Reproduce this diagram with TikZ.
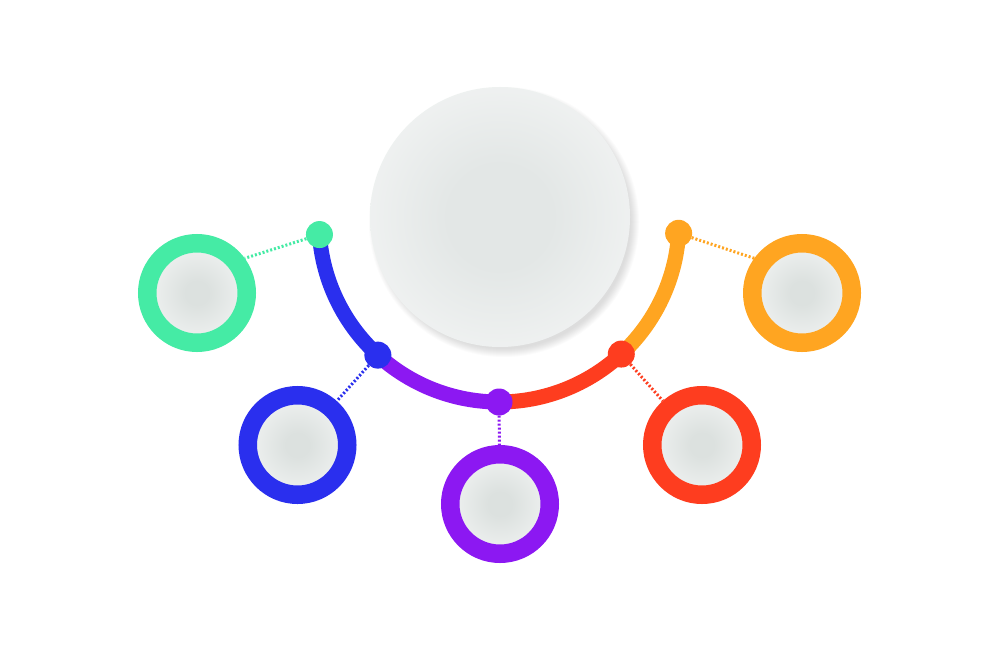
\documentclass[tikz,border=0pt]{standalone}
\usetikzlibrary{calc}
\definecolor{cgreen}{HTML}{45EBA5}
\definecolor{cblue}{HTML}{2A2FEE}
\definecolor{cpurple}{HTML}{8C18F2}
\definecolor{cred}{HTML}{FE3D1F}
\definecolor{corange}{HTML}{FFA521}
\definecolor{padc}{HTML}{DCE1DF}
\definecolor{pade}{HTML}{F9FAFA}
\definecolor{hubc}{HTML}{E3E7E6}
\definecolor{hube}{HTML}{F6F7F7}
\pgfdeclareradialshading{padfill}{\pgfpoint{0bp}{0bp}}{color(0bp)=(padc); color(6bp)=(padc); color(35bp)=(pade); color(50bp)=(pade)}
\pgfdeclareradialshading{hubfill}{\pgfpoint{0bp}{0bp}}{color(0bp)=(hubc); color(10bp)=(hubc); color(35bp)=(hube); color(50bp)=(hube)}

\begin{document}
\begin{tikzpicture}[x=1pt,y=1pt,
  seg/.style={line width=15pt},
  dot/.style={circle, minimum size=27pt, inner sep=0pt},
  ring/.style={circle, draw, line width=18.5pt, minimum size=99.5pt, inner sep=0pt, shading=padfill},
  link/.style={line width=3pt, dash pattern=on 2pt off 2pt}]
  \useasboundingbox[fill=white] (0,0) rectangle (1000,649);
  %coordinates
  \coordinate (hubpos) at (500,432);
  \coordinate (ctr) at (499,427);
  \coordinate (pg) at ($(ctr)+(184:180)$);
  \coordinate (pb) at ($(ctr)+(227.7:180)$);
  \coordinate (pp) at ($(ctr)+(270:180)$);
  \coordinate (pr) at ($(ctr)+(312.8:180)$);
  \coordinate (po) at ($(ctr)+(356.4:180)$);
  % shadow of the hub
  \foreach \k in {0,...,8}
    \fill[black!60, opacity=0.022] ($(hubpos)+(4,-5)$) circle ({127+\k});
  % Nodes
  \node[circle, minimum size=260pt, inner sep=0pt, shading=hubfill] (hub) at (hubpos) {};
  % arc
  \draw[seg, cblue] (pg) arc[start angle=184, end angle=227.7, radius=180pt];
  \draw[seg, cpurple] (pb) arc[start angle=227.7, end angle=270, radius=180pt];
  \draw[seg, cred] (pp) arc[start angle=270, end angle=312.8, radius=180pt];
  \draw[seg, corange] (pr) arc[start angle=312.8, end angle=356.4, radius=180pt];
  \node[dot, fill=cgreen] (gdot) at (pg) {};
  \node[dot, fill=cblue] (bdot) at (pb) {};
  \node[dot, fill=cpurple] (pdot) at (pp) {};
  \node[dot, fill=cred] (rdot) at (pr) {};
  \node[dot, fill=corange] (odot) at (po) {};
  \node[ring, draw=cgreen] (gring) at (197,356) {};
  \node[ring, draw=cblue] (bring) at (297.5,204) {};
  \node[ring, draw=cpurple] (pring) at (500,145) {};
  \node[ring, draw=cred] (rring) at (702,204) {};
  \node[ring, draw=corange] (oring) at (802,356) {};
  % Edges
  \draw[link, cgreen] (gdot) -- (gring.36);
  \draw[link, cblue] (bdot) -- (bring);
  \draw[link, cpurple] (pdot) -- (pring);
  \draw[link, cred] (rdot) -- (rring);
  \draw[link, corange] (odot) -- (oring.144);
\end{tikzpicture}
\end{document}
